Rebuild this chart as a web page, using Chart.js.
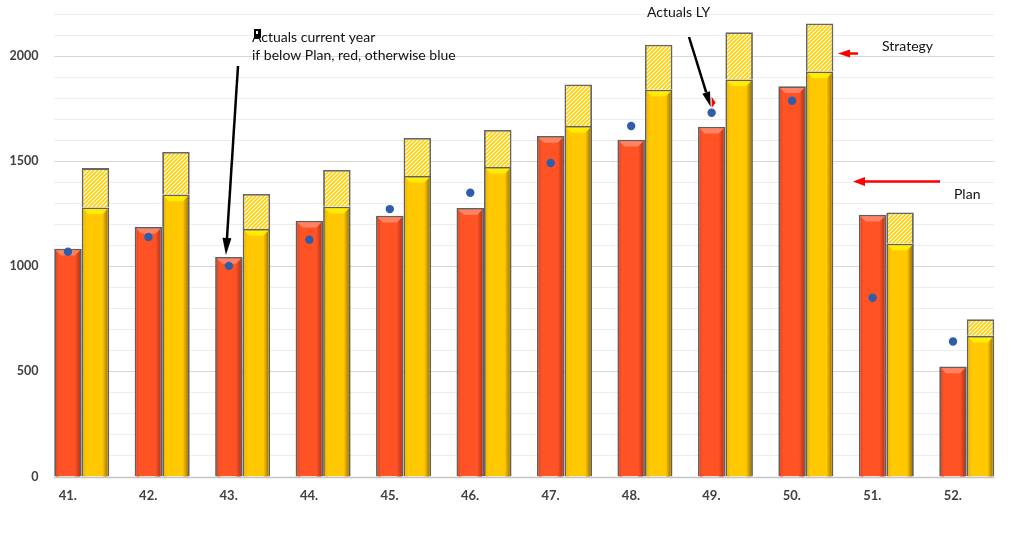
<!DOCTYPE html>
<html><head><meta charset="utf-8">
<script src="https://cdn.jsdelivr.net/npm/chart.js@4.4.1/dist/chart.umd.min.js"></script>
<style>html,body{margin:0;padding:0;background:#fff;overflow:hidden}canvas{display:block}</style>
</head><body>
<canvas id="c" width="1024" height="535" style="width:1024px;height:535px"></canvas>
<script>
// ---- data ----
const categories = ['41.','42.','43.','44.','45.','46.','47.','48.','49.','50.','51.','52.'];
const actualsCY  = [1083,1187,1044,1217,1240,1277,1620,1602,1664,1856,1245,523];
const plan       = [1280,1342,1177,1283,1430,1472,1667,1840,1889,1927,1107,669];
const strategy   = [187,202,167,175,180,176,198,214,224,228,149,79];
const actualsLY  = [1069,1139,1002,1126,1272,1350,1491,1667,1730,1787,850,642];
const yTickLabels = [0,500,1000,1500,2000];

// ---- styles ----
const CAT_PCT = 0.684;
const FONT = 'Lato';
function hatch(){
  const s=4, cv=document.createElement('canvas'); cv.width=s; cv.height=s;
  const g=cv.getContext('2d');
  g.fillStyle='#ffffff'; g.fillRect(0,0,s,s);
  g.strokeStyle='#FFD000'; g.lineWidth=1.7;
  g.beginPath();
  g.moveTo(-1,s+1); g.lineTo(s+1,-1);
  g.moveTo(-s/2-1,s/2+1); g.lineTo(s/2+1,-s/2-1);
  g.moveTo(s/2-1,s*1.5+1); g.lineTo(s*1.5+1,s/2-1);
  g.stroke();
  return g.createPattern(cv,'repeat');
}

const gridPlugin = {
  id:'gridPlugin',
  beforeDatasetsDraw(chart){
    const y=chart.scales.y, ctx=chart.ctx;
    const red=chart.getDatasetMeta(1).data, yel=chart.getDatasetMeta(2).data;
    const x0=red[0].x-red[0].width/2, last=yel[yel.length-1];
    const x1=last.x+last.width/2;
    ctx.save();
    y.ticks.forEach(t=>{
      const py=Math.round(y.getPixelForValue(t.value))+0.5;
      ctx.strokeStyle = t.value===0 ? '#c4c4c4' : (t.value%500===0 ? '#d6d6d6' : '#ededed');
      ctx.lineWidth = t.value===0 ? 1.5 : 1;
      ctx.beginPath(); ctx.moveTo(x0,py); ctx.lineTo(x1,py); ctx.stroke();
    });
    ctx.restore();
  }
};

const bevelPlugin = {
  id:'bevelPlugin',
  afterDatasetDraw(chart,args){
    const ds=chart.data.datasets[args.index];
    if(!ds.bevel) return;
    const ctx=chart.ctx, bw=ds.borderWidth||0, bv=ds.bevel;
    ctx.save();
    args.meta.data.forEach(el=>{
      const l=el.x-el.width/2+bw, r=el.x+el.width/2-bw, t=el.y+bw, b=el.base;
      if(b-t<2) return;
      const g=ctx.createLinearGradient(r-5,0,r,0);
      g.addColorStop(0,bv.main); g.addColorStop(1,bv.dark);
      ctx.fillStyle=g; ctx.fillRect(r-5,t,5,b-t);
      const g2=ctx.createLinearGradient(l,0,l+3,0);
      g2.addColorStop(0,bv.dark2); g2.addColorStop(1,bv.main);
      ctx.fillStyle=g2; ctx.fillRect(l,t,3,b-t);
      ctx.fillStyle=bv.light;
      ctx.beginPath(); ctx.moveTo(l,t); ctx.lineTo(r,t); ctx.lineTo(r-5,t+5); ctx.lineTo(l+5,t+5); ctx.closePath(); ctx.fill();
    });
    ctx.restore();
  }
};

function arrow(ctx,x0,y0,x1,y1,color,lw,hl,hw){
  const a=Math.atan2(y1-y0,x1-x0), bx=x1-hl*Math.cos(a), by=y1-hl*Math.sin(a);
  ctx.strokeStyle=color; ctx.fillStyle=color; ctx.lineWidth=lw; ctx.lineCap='butt';
  ctx.beginPath(); ctx.moveTo(x0,y0); ctx.lineTo(bx,by); ctx.stroke();
  const px=-Math.sin(a)*hw/2, py=Math.cos(a)*hw/2;
  ctx.beginPath(); ctx.moveTo(x1,y1); ctx.lineTo(bx+px,by+py); ctx.lineTo(bx-px,by-py); ctx.closePath(); ctx.fill();
}

const notePlugin = {
  id:'notePlugin',
  afterDraw(chart){
    const ctx=chart.ctx;
    const redEl=chart.getDatasetMeta(1).data[2];
    const dotEl=chart.getDatasetMeta(0).data[8];
    ctx.save();
    ctx.font='14px '+FONT; ctx.fillStyle='#111'; ctx.textBaseline='middle'; ctx.textAlign='left';
    ctx.fillText('Actuals current year',252,37);
    ctx.fillText('if below Plan, red, otherwise blue',252,55);
    ctx.fillText('Actuals LY',647,12);
    ctx.fillText('Strategy',882,46);
    ctx.fillText('Plan',954,194);
    ctx.fillStyle='#000'; ctx.fillRect(254,29,7,9);
    ctx.fillStyle='#fff'; ctx.fillRect(256,31,2,3);
    arrow(ctx,238,66,redEl.x-3,redEl.y-2,'#000',2.5,17,9);
    arrow(ctx,689,37,dotEl.x-1,dotEl.y-6,'#000',2.5,15,8);
    ctx.fillStyle='#f00';
    ctx.beginPath(); ctx.moveTo(dotEl.x,dotEl.y-16); ctx.lineTo(dotEl.x+4,dotEl.y-10); ctx.lineTo(dotEl.x,dotEl.y-5); ctx.closePath(); ctx.fill();
    arrow(ctx,858,53.5,838,53.5,'#f00',2.5,12,8);
    arrow(ctx,940,181.5,853,181.5,'#f00',2.5,12,9);
    ctx.restore();
  }
};

new Chart(document.getElementById('c'),{
  type:'bar',
  data:{
    labels:categories,
    datasets:[
      {type:'line',label:'Actuals LY',stack:'ly',order:0,parsing:false,
       // x = category index, centred on the red bar of its group
       data:actualsLY.map((v,i)=>({x:i-CAT_PCT/4,y:v})),
       showLine:false,pointRadius:4.2,pointHoverRadius:4.2,pointBackgroundColor:'#2F5DAA',pointBorderWidth:0},
      {label:'Actuals current year',data:actualsCY,stack:'cy',order:1,
       backgroundColor:'#FF5326',borderColor:'#606060',borderWidth:1.8,
       bevel:{main:'#FF5326',dark:'#B7381A',dark2:'#E8461F',light:'#FF8363'}},
      {label:'Plan',data:plan,stack:'plan',order:1,
       backgroundColor:'#FFC800',borderColor:'#606060',borderWidth:1.8,
       bevel:{main:'#FFC800',dark:'#A67C00',dark2:'#F0B800',light:'#FFEC00'}},
      {label:'Strategy',data:strategy,stack:'plan',order:1,
       backgroundColor:hatch(),borderColor:'#666',borderWidth:1.8}
    ]
  },
  options:{
    responsive:false,animation:false,
    categoryPercentage:CAT_PCT,barPercentage:1,
    layout:{padding:{top:14,right:17,left:0,bottom:0}},
    plugins:{legend:{display:false},tooltip:{enabled:false}},
    scales:{
      x:{type:'category',offset:true,stacked:true,
         grid:{display:false,drawTicks:false},border:{display:false},
         ticks:{labelOffset:-14,padding:12,color:'#404040',maxRotation:0,autoSkip:false,
                font:{family:FONT,size:13,weight:'bold'}},
         afterFit(s){s.height=58.5;}},
      y:{stacked:true,min:0,max:2200,
         grid:{display:false,drawTicks:false},border:{display:false},
         ticks:{stepSize:100,autoSkip:false,padding:3,color:'#404040',
                font:{family:FONT,size:12.5,weight:'bold'},
                callback:v=>yTickLabels.includes(v)?String(v):''},
         afterFit(s){s.width=41.5;}}
    }
  },
  plugins:[gridPlugin,bevelPlugin,notePlugin]
});
</script>
</body></html>
